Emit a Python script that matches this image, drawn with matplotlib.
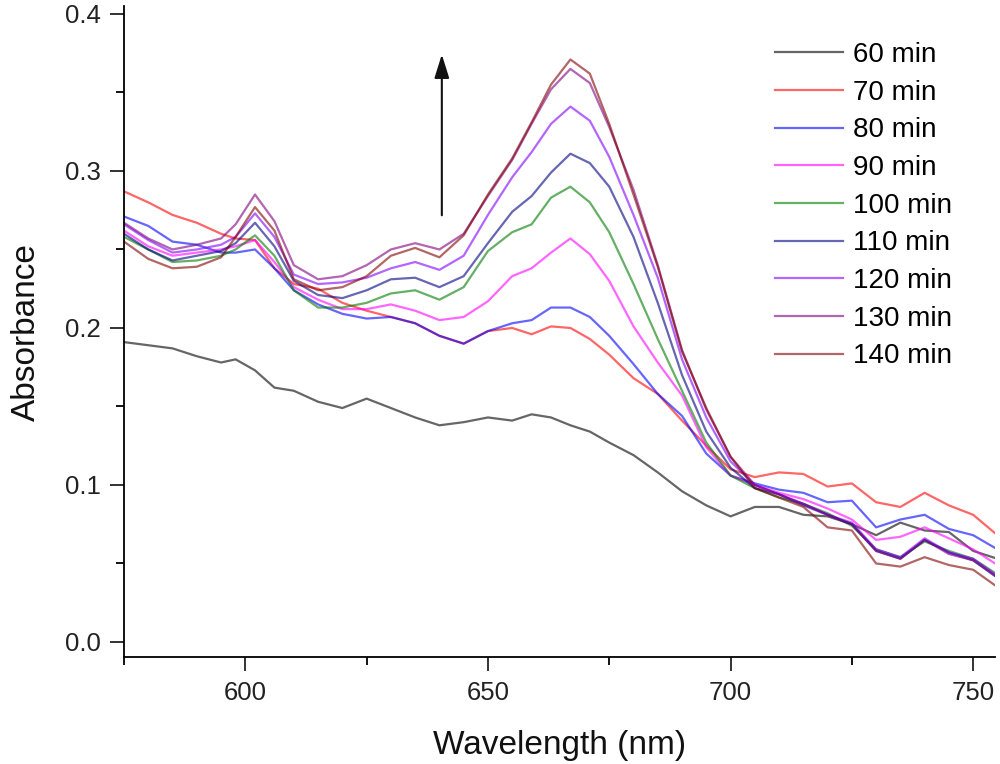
"""UV-vis absorbance spectra recorded at successive reaction times."""

import matplotlib

matplotlib.use("Agg")
import matplotlib.pyplot as plt
from matplotlib.ticker import MultipleLocator

wavelength = [575, 580, 585, 590, 595, 598, 602, 606, 610, 615,
              620, 625, 630, 635, 640, 645, 650, 655, 659, 663,
              667, 671, 675, 680, 685, 690, 695, 700, 705, 710,
              715, 720, 725, 730, 735, 740, 745, 750, 755]

abs_60 = [0.191, 0.189, 0.187, 0.182, 0.178, 0.180, 0.173, 0.162, 0.160, 0.153,
          0.149, 0.155, 0.149, 0.143, 0.138, 0.140, 0.143, 0.141, 0.145, 0.143,
          0.138, 0.134, 0.127, 0.119, 0.108, 0.096, 0.087, 0.080, 0.086, 0.086,
          0.081, 0.080, 0.075, 0.068, 0.076, 0.071, 0.070, 0.058, 0.053]
abs_70 = [0.287, 0.280, 0.272, 0.267, 0.260, 0.257, 0.256, 0.238, 0.228, 0.225,
          0.216, 0.211, 0.207, 0.203, 0.195, 0.190, 0.198, 0.200, 0.196, 0.201,
          0.200, 0.193, 0.183, 0.168, 0.158, 0.141, 0.125, 0.110, 0.105, 0.108,
          0.107, 0.099, 0.101, 0.089, 0.086, 0.095, 0.087, 0.081, 0.068]
abs_80 = [0.271, 0.265, 0.255, 0.253, 0.248, 0.248, 0.250, 0.238, 0.224, 0.215,
          0.209, 0.206, 0.207, 0.203, 0.195, 0.190, 0.198, 0.203, 0.205, 0.213,
          0.213, 0.207, 0.195, 0.177, 0.158, 0.144, 0.120, 0.106, 0.101, 0.097,
          0.095, 0.089, 0.090, 0.073, 0.078, 0.081, 0.072, 0.068, 0.059]
abs_90 = [0.262, 0.252, 0.246, 0.248, 0.250, 0.252, 0.256, 0.242, 0.226, 0.218,
          0.212, 0.212, 0.215, 0.211, 0.205, 0.207, 0.217, 0.233, 0.238, 0.248,
          0.257, 0.247, 0.230, 0.201, 0.178, 0.157, 0.124, 0.106, 0.100, 0.095,
          0.091, 0.085, 0.078, 0.065, 0.067, 0.073, 0.066, 0.059, 0.049]
abs_100 = [0.258, 0.250, 0.242, 0.243, 0.246, 0.250, 0.259, 0.246, 0.224, 0.213,
           0.213, 0.216, 0.222, 0.224, 0.218, 0.226, 0.249, 0.261, 0.266, 0.283,
           0.290, 0.280, 0.261, 0.228, 0.193, 0.160, 0.127, 0.106, 0.098, 0.092,
           0.088, 0.082, 0.074, 0.059, 0.054, 0.064, 0.058, 0.053, 0.043]
abs_110 = [0.260, 0.250, 0.243, 0.246, 0.249, 0.254, 0.267, 0.252, 0.230, 0.221,
           0.219, 0.224, 0.231, 0.232, 0.226, 0.233, 0.254, 0.274, 0.284, 0.299,
           0.311, 0.305, 0.290, 0.258, 0.216, 0.170, 0.134, 0.111, 0.098, 0.094,
           0.087, 0.081, 0.075, 0.058, 0.053, 0.065, 0.057, 0.052, 0.041]
abs_120 = [0.266, 0.256, 0.248, 0.250, 0.253, 0.258, 0.273, 0.258, 0.234, 0.228,
           0.229, 0.232, 0.238, 0.242, 0.237, 0.246, 0.272, 0.296, 0.312, 0.330,
           0.341, 0.332, 0.309, 0.272, 0.232, 0.180, 0.143, 0.115, 0.100, 0.094,
           0.088, 0.081, 0.076, 0.059, 0.054, 0.066, 0.057, 0.053, 0.042]
abs_130 = [0.267, 0.257, 0.250, 0.253, 0.257, 0.266, 0.285, 0.268, 0.240, 0.231,
           0.233, 0.240, 0.250, 0.254, 0.250, 0.260, 0.284, 0.307, 0.330, 0.352,
           0.365, 0.356, 0.328, 0.288, 0.240, 0.186, 0.148, 0.118, 0.100, 0.094,
           0.088, 0.081, 0.075, 0.058, 0.053, 0.065, 0.056, 0.052, 0.041]
abs_140 = [0.255, 0.244, 0.238, 0.239, 0.245, 0.258, 0.277, 0.262, 0.231, 0.224,
           0.226, 0.233, 0.246, 0.251, 0.245, 0.259, 0.285, 0.308, 0.331, 0.355,
           0.371, 0.362, 0.330, 0.285, 0.239, 0.185, 0.149, 0.118, 0.098, 0.092,
           0.086, 0.073, 0.071, 0.050, 0.048, 0.054, 0.049, 0.046, 0.035]

labels = ["60 min", "70 min", "80 min", "90 min", "100 min",
          "110 min", "120 min", "130 min", "140 min"]
series = [abs_60, abs_70, abs_80, abs_90, abs_100,
          abs_110, abs_120, abs_130, abs_140]
colors = ["#000000", "#ff0000", "#0000ff", "#ff00ff", "#007a00",
          "#000080", "#8000ff", "#800080", "#800000"]

plt.rcParams.update(
    {
        "font.family": ["Liberation Sans", "DejaVu Sans"],
        "axes.linewidth": 1.3,
    }
)

fig = plt.figure(figsize=(10, 7.64), dpi=100)
ax = fig.add_axes([0.124, 0.140, 0.871, 0.852])

for values, label, color in zip(series, labels, colors):
    ax.plot(wavelength, values, color=color, alpha=0.6, lw=1.6, label=label)

ax.annotate(
    "",
    xy=(640.5, 0.376),
    xytext=(640.5, 0.270),
    arrowprops=dict(arrowstyle="-|>,head_width=0.25,head_length=0.8",
                    color="#111111", lw=1.5, mutation_scale=18),
)

ax.set_xlim(575, 754.5)
ax.set_ylim(-0.0096, 0.405)
ax.xaxis.set_major_locator(MultipleLocator(50))
ax.xaxis.set_minor_locator(MultipleLocator(25))
ax.yaxis.set_major_locator(MultipleLocator(0.1))
ax.yaxis.set_minor_locator(MultipleLocator(0.05))
ax.yaxis.set_major_formatter(matplotlib.ticker.FormatStrFormatter("%.1f"))

for side in ("top", "right"):
    ax.spines[side].set_visible(False)

ax.tick_params(which="major", direction="out", length=10, width=1.3,
               labelsize=18.5, pad=7, colors="#222222")
ax.tick_params(which="minor", direction="out", length=6, width=1.3)

ax.set_xlabel("Wavelength (nm)", fontsize=24, color="#111111", labelpad=18)
ax.set_ylabel("Absorbance", fontsize=24, color="#111111", labelpad=16)

ax.legend(
    loc="upper left",
    bbox_to_anchor=(0.775, 0.945),
    bbox_transform=fig.transFigure,
    frameon=False,
    fontsize=20,
    handlelength=2.45,
    handletextpad=0.36,
    labelspacing=0.42,
    borderpad=0,
    borderaxespad=0,
)

fig.savefig("out.png", dpi=100)
